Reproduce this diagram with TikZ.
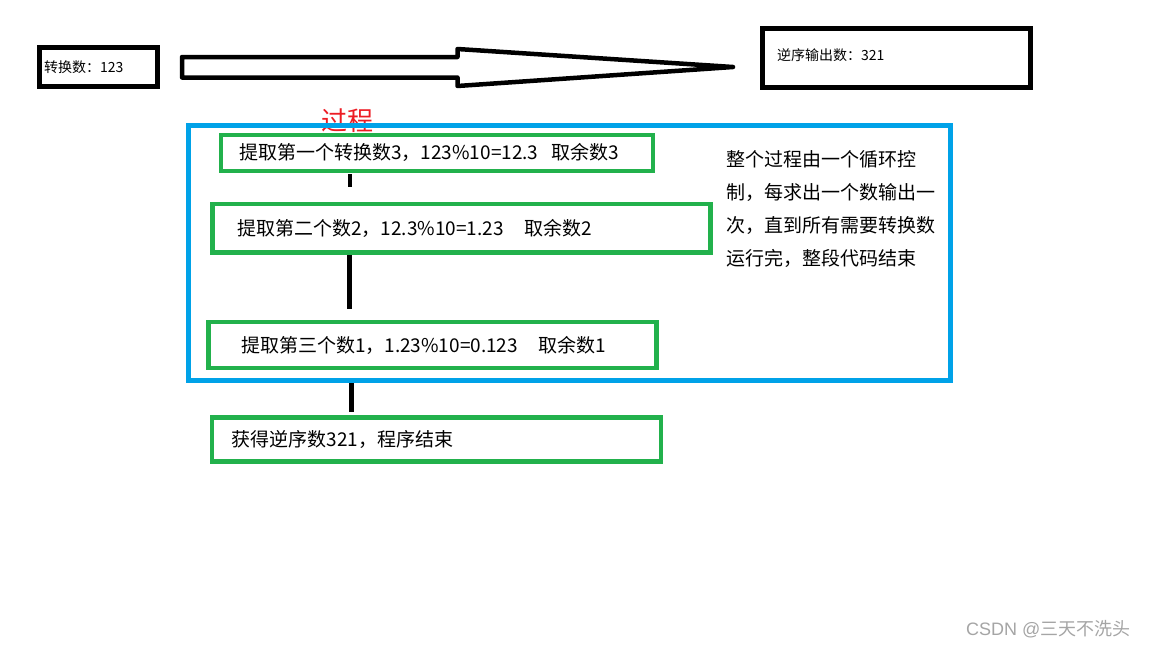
\documentclass[tikz,border=0pt]{standalone}
\usepackage{fontspec}
\setmainfont{Noto Sans CJK SC}
\newfontfamily\wmlatin{Liberation Sans}
\definecolor{pblue}{RGB}{0,162,232}
\definecolor{pgreen}{RGB}{34,177,76}
\definecolor{pred}{RGB}{237,28,36}
\definecolor{pgray}{RGB}{165,165,165}
\begin{document}
\begin{tikzpicture}[x=1pt,y=-1pt,
  blackbox/.style={draw=black, line width=5pt, outer sep=0pt, anchor=north west, align=left, inner ysep=0pt, font=\fontsize{14}{16}\selectfont},
  greenbox/.style={draw=pgreen, line width=4.5pt, fill=white, outer sep=0pt, anchor=north west, align=left, inner ysep=0pt, font=\fontsize{19}{22}\selectfont},
  loopbox/.style={draw=pblue, line width=5pt, outer sep=0pt, inner sep=0pt, anchor=north west},
  conn/.style={draw=black, line width=4.5pt},
  bigarrow/.style={draw=black, line width=4.5pt, line join=round},
]
\useasboundingbox (0,0) rectangle (1152,648);
\fill[white] (0,0) rectangle (1152,648);

% top boxes and big arrow
\node[blackbox, text width=108.5pt, inner xsep=5pt, minimum height=38.5pt] (inbox) at (39,47.5) {转换数：123};
\node[blackbox, text width=239pt, inner xsep=14.5pt, minimum height=59pt] (outbox) at (762.5,28.5) {\raisebox{0pt}[\height][\dimexpr\depth+6pt\relax]{逆序输出数：321}};
\draw[bigarrow] (182,57) -- (457.5,57) -- (457.5,49) -- (733,67) -- (457.5,86) -- (457.5,77.5) -- (182,77.5) -- cycle;

% title
\node[anchor=base west, inner sep=0pt, text=pred, font=\fontsize{26}{28}\selectfont] (title) at (321.7,130) {过程};

% loop frame
\node[loopbox, minimum width=761.5pt, minimum height=255pt] (loop) at (188.5,125.8) {};

% steps
\node[greenbox, text width=395.2pt, inner xsep=18.5pt, minimum height=36pt] (g1) at (220.8,134.8) {提取第一个转换数3，123\%10=12.3\hspace{0.7em}取余数3};
\node[greenbox, text width=448.4pt, inner xsep=24.8pt, minimum height=48.3pt] (g2) at (212.5,204.2) {提取第二个数2，12.3\%10=1.23\hspace{1.1em}取余数2};
\node[greenbox, text width=383pt, inner xsep=32.5pt, minimum height=46.4pt] (g3) at (208.5,321.8) {提取第三个数1，1.23\%10=0.123\hspace{1.1em}取余数1};
\node[greenbox, text width=409.2pt, inner xsep=19.9pt, minimum height=44pt] (g4) at (211.8,417.5) {获得逆序数321，程序结束};

% connectors
\coordinate (xa) at (350,0);
\coordinate (xb) at (349.5,0);
\coordinate (xc) at (351.5,0);
\draw[conn, shorten <=3.2pt, shorten >=16.9pt] (g1.south -| xa) -- (g2.north -| xa);
\draw[conn, shorten <=2.5pt, shorten >=12.5pt] (g2.south -| xb) -- (g3.north -| xb);
\draw[conn, shorten <=2.5pt, shorten >=5.8pt] (loop.south -| xc) -- (g4.north -| xc);

% note
\node[anchor=base west, inner sep=0pt, text width=220pt, align=left, font=\fontsize{19}{33}\selectfont] (note) at (726.7,166.5) {整个过程由一个循环控\\制，每求出一个数输出一\\次，直到所有需要转换数\\运行完，整段代码结束};

% watermark
\node[anchor=base west, inner sep=0pt, text=pgray, font=\fontsize{18}{20}\selectfont] (wm) at (966,635.8) {{\wmlatin CSDN @}三天不洗头};
\end{tikzpicture}
\end{document}
